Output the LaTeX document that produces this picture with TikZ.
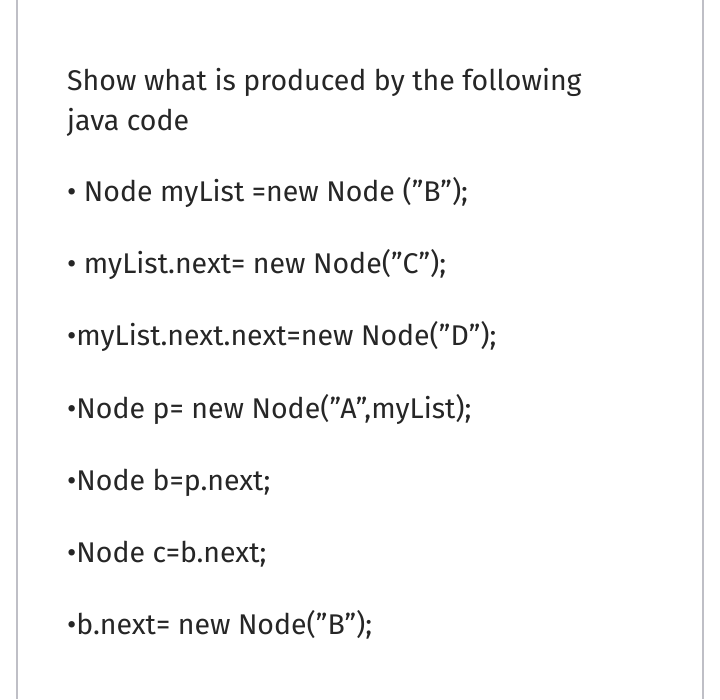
\documentclass[tikz,border=0pt]{standalone}
\usepackage{fontspec}
\defaultfontfeatures{}
\setmainfont{Fira Sans}[Ligatures=ResetAll]
\newcommand{\qq}{\symbol{34}}
\begin{document}
\begin{tikzpicture}[x=1pt,y=-1pt,
  txt/.style={anchor=base west,inner sep=0pt,font=\fontsize{28.5}{32}\selectfont,text=black!85}]
\useasboundingbox (0,0) rectangle (720,699);
\fill[white] (0,0) rectangle (720,699);
\draw[color=blue!10!black!25,line width=1.5pt] (17,0) -- (17,699);
\draw[color=blue!10!black!25,line width=1.5pt] (703,0) -- (703,699);
\node[txt] (t1) at (67,90) {Show what is produced by the following};
\node[txt] (t2) at (67,130) {java code};
\node[txt] (l1) at (67,201) {• Node myList =new Node (\qq B\qq);};
\node[txt] (l2) at (67,273) {• myList.next= new Node(\qq C\qq);};
\node[txt] (l3) at (67,345) {•myList.next.next=new Node(\qq D\qq);};
\node[txt] (l4) at (67,418) {•Node p= new Node(\qq A\qq,myList);};
\node[txt] (l5) at (67,490) {•Node b=p.next;};
\node[txt] (l6) at (67,562) {•Node c=b.next;};
\node[txt] (l7) at (67,634) {•b.next= new Node(\qq B\qq);};
\end{tikzpicture}
\end{document}
